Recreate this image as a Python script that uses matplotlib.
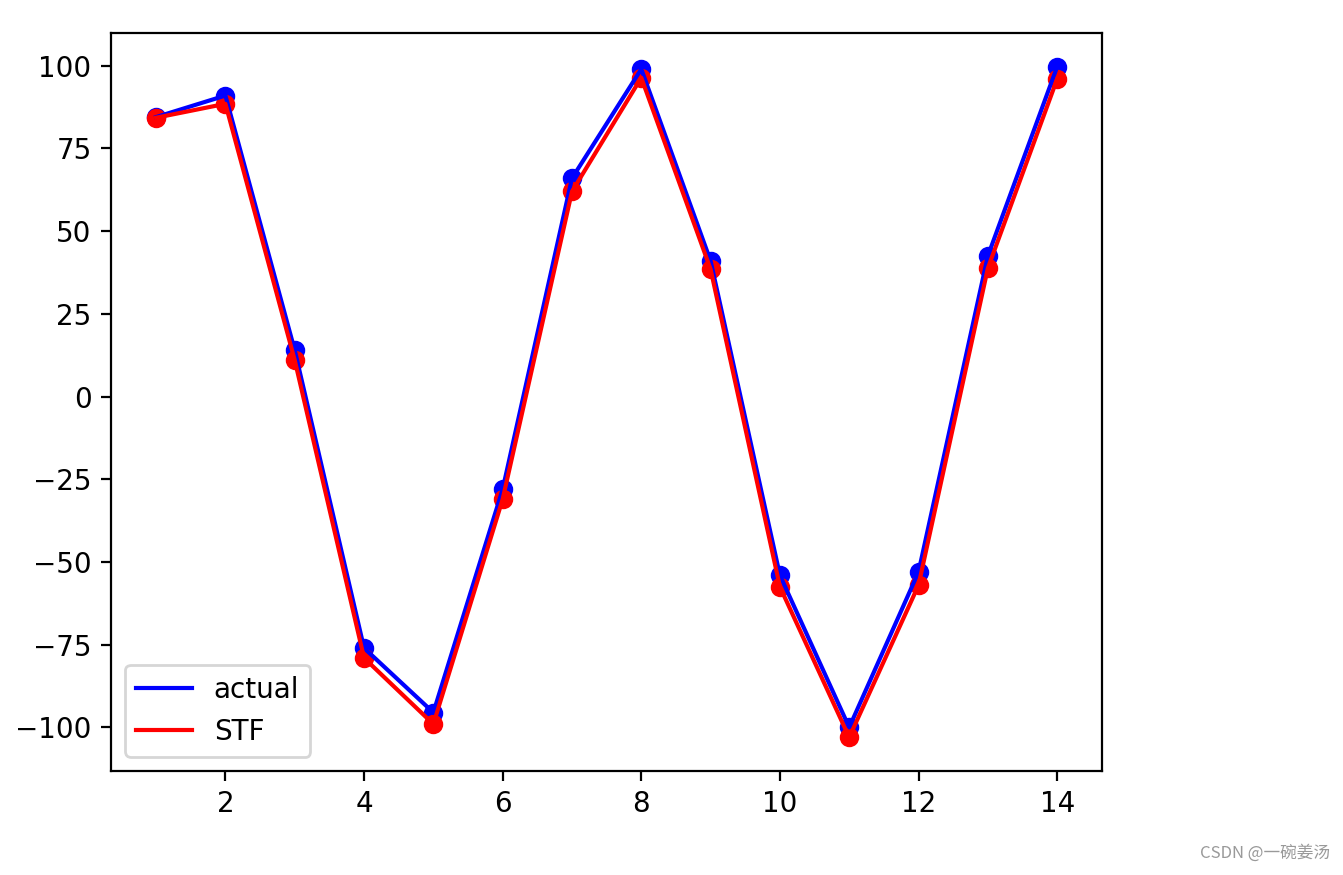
import matplotlib.pyplot as plt

x = list(range(1, 15))
actual = [84.5, 91, 14, -76, -95.5, -28, 66, 99, 41, -54, -100, -53, 42.5, 99.7]
stf = [84.3, 88.5, 11, -79, -99, -31, 62, 96.4, 38.5, -57.5, -103, -57, 38.8, 96]

fig = plt.figure(figsize=(6.715, 4.375), dpi=200)
ax = fig.add_axes([0.0827, 0.119, 0.738, 0.843])

ax.plot(x, actual, color='blue', label='actual')
ax.scatter(x, actual, color='blue')
ax.plot(x, stf, color='red', label='STF')
ax.scatter(x, stf, color='red')
ax.legend(loc='lower left')

fig.text(0.99, 0.015, 'CSDN @一碗姜汤', ha='right', va='bottom', fontsize=6, color='#999999',
         family=['Noto Sans CJK SC', 'DejaVu Sans'])

plt.savefig('out.png', dpi=200)
